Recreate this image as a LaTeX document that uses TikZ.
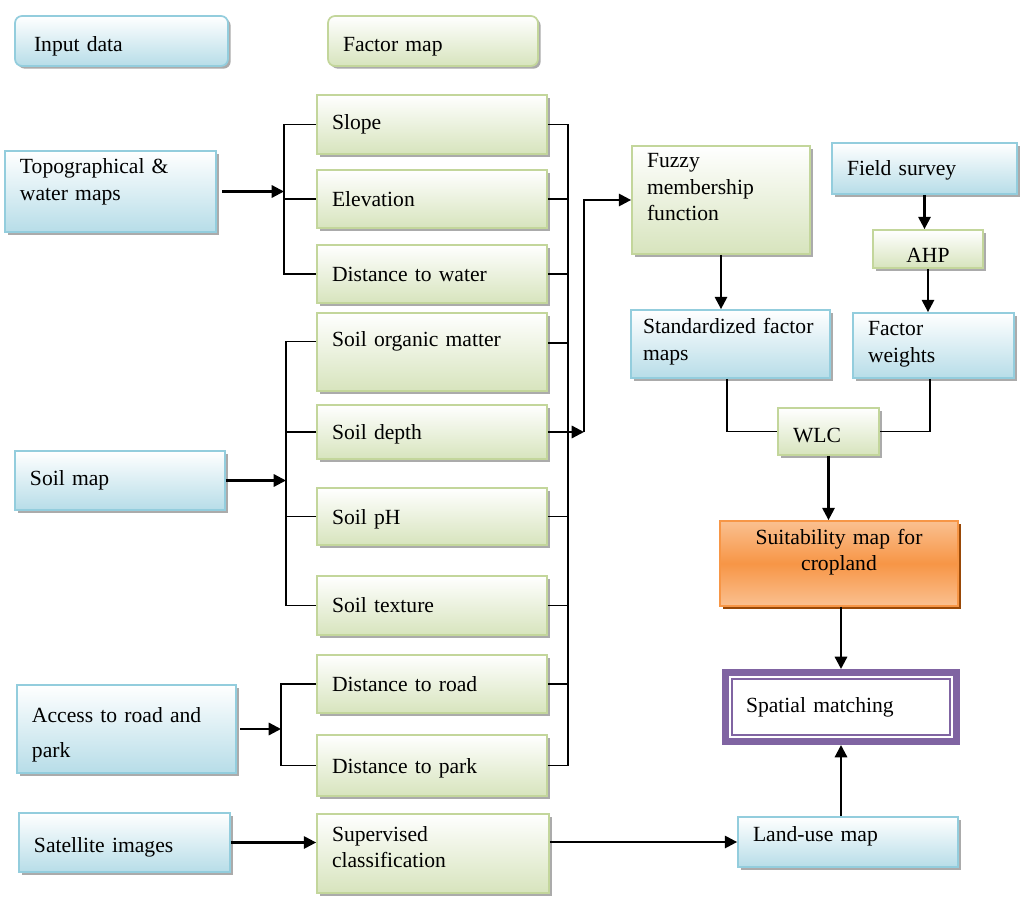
\documentclass[tikz,border=0pt]{standalone}
\usepackage{fontspec}
\setmainfont{Liberation Serif}
\usepackage{xcolor}
\usepackage{tikz}
\usetikzlibrary{arrows.meta}
\usetikzlibrary{shadows}
\definecolor{boxblue}{HTML}{B7DDE8}
\definecolor{lineblue}{HTML}{93CDDD}
\definecolor{boxgreen}{HTML}{D7E4BD}
\definecolor{linegreen}{HTML}{C3D69B}
\definecolor{orangemid}{HTML}{F79646}
\definecolor{orangelight}{HTML}{FAC090}
\definecolor{orangedark}{HTML}{984807}
\definecolor{purp}{HTML}{8064A2}

\begin{document}
\begin{tikzpicture}[x=0.02cm, y=-0.02cm, font=\fontsize{12.3}{15}\selectfont,
	bx/.code 2 args={\pgfmathsetmacro\bxw{#1*0.02}\pgfmathsetmacro\bxt{(#1-30)*0.02}\pgfmathsetmacro\bxh{#2*0.02}\edef\bxtmp{\noexpand\tikzset{minimum width=\bxw cm, text width=\bxt cm, minimum height=\bxh cm}}\bxtmp},
	bl/.code={\pgfmathsetmacro\blh{max(0,-2*(#1))*0.02}\pgfmathsetmacro\bld{max(0,2*(#1))*0.02}\edef\bltmp{\noexpand\tikzset{text height=\blh cm, text depth=\bld cm}}\bltmp},
	card/.style={rectangle, inner sep=0pt, align=left, line width=1pt},
	shd/.style={drop shadow={shadow xshift=1.5pt, shadow yshift=-1.5pt, fill=black!55, opacity=.6}},
	inbox/.style={card, shd, draw=lineblue, top color=white, bottom color=boxblue},
	facbox/.style={card, shd, draw=linegreen, top color=white, bottom color=boxgreen},
	suitbox/.style={card, draw=orangemid, top color=orangelight, bottom color=orangelight, middle color=orangemid, drop shadow={shadow xshift=1.5pt, shadow yshift=-1.5pt, fill=orangedark, opacity=1}},
	smbox/.style={card, draw=purp, line width=4pt, fill=white},
	ln/.style={line width=0.9pt},
	arr/.style={line width=1.3pt, -{Triangle[length=7pt,width=7pt]}}]
	\useasboundingbox (0,0) rectangle (1024,905);
	% legend
	\node[inbox, rounded corners=4pt, bx={213}{50}, bl=-11, text width=3.5cm] (inp) at (121.5,41) {Input data};
	\node[facbox, rounded corners=4pt, bx={210}{50}, bl=-11] (fac) at (433,41) {Factor map};
	% input data
	\node[inbox, bx={211}{81}, bl=17.5] (topo) at (110.5,191.5) {Topographical \&\\water maps};
	\node[inbox, bx={210}{59}] (soil) at (120,480.5) {Soil map};
	\node[inbox, bx={219}{88}, bl=7] (acc) at (126.5,729) {Access to road and\\[5pt]park};
	\node[inbox, bx={211}{59}, bl=-9.5] (sat) at (124.5,842.5) {Satellite images};
	% factor maps
	\node[facbox, bx={230}{59}] (slope) at (432,124.5) {Slope};
	\node[facbox, bx={230}{58}] (elev) at (432,199) {Elevation};
	\node[facbox, bx={230}{58}] (water) at (432,274) {Distance to water};
	\node[facbox, bx={230}{78}, bl=5] (som) at (432,352) {Soil organic matter};
	\node[facbox, bx={230}{54}, bl=-7] (depth) at (432,432) {Soil depth};
	\node[facbox, bx={230}{57}, bl=-7.5] (ph) at (432,516.5) {Soil pH};
	\node[facbox, bx={230}{59}] (texture) at (432,605.5) {Soil texture};
	\node[facbox, bx={230}{58}, bl=-7] (road) at (432,684) {Distance to road};
	\node[facbox, bx={230}{61}, bl=-7.5] (park) at (432,765.5) {Distance to park};
	\node[facbox, bx={232}{79}, bl=12.5] (sup) at (433,853.5) {Supervised\\classification};
	% right part
	\node[facbox, bx={178}{108}, bl=32] (fuzzy) at (721,200) {Fuzzy\\membership\\function};
	\node[inbox, bx={185}{51}, bl=-7.5] (field) at (924.5,168.5) {Field survey};
	\node[facbox, bx={110}{38}, bl=-14, align=center] (ahp) at (928,249) {AHP};
	\node[inbox, bx={199}{68}, bl=10, text width=3.5cm] (std) at (730.5,344) {Standardized factor\\maps};
	\node[inbox, bx={161}{65}, bl=9.5] (fw) at (933.5,345.5) {Factor\\weights};
	\node[facbox, bx={101}{47}, bl=-10.5] (wlc) at (828.5,431.5) {WLC};
	\node[suitbox, bx={238}{85}, bl=19.5, align=center] (suit) at (839,563.5) {Suitability map for\\cropland};
	\node[smbox, bx={231}{69}, bl=-5, text width=3.8cm] (sm) at (841,707) {Spatial matching};
	\draw[purp, line width=0.8pt] ([shift={(10,10)}]sm.north west) rectangle ([shift={(-10,-10)}]sm.south east);
	\node[inbox, bx={220}{50}, bl=1] (lu) at (848,842) {Land-use map};
	\coordinate (tb) at (284,0);
	\coordinate (sb) at (286,0);
	\coordinate (ab) at (281,0);
	\coordinate (bus) at (568,0);
	\coordinate (fz) at (584,0);
	% left brackets
	\draw[ln] (slope.west) -- (slope.west -| tb) -- (water.west -| tb) -- (water.west);
	\draw[ln] (elev.west) -- (elev.west -| tb);
	\draw[arr] ([xshift=3pt]topo.east) -- (topo.east -| tb);
	\draw[ln] ([yshift=6pt]som.west) -- ([yshift=6pt]som.west -| sb) -- (texture.west -| sb) -- (texture.west);
	\foreach \n in {depth, ph}
		\draw[ln] (\n.west) -- (\n.west -| sb);
	\draw[arr] (soil.east) -- (soil.east -| sb);
	\draw[ln] (road.west) -- (road.west -| ab) -- (park.west -| ab) -- (park.west);
	\draw[arr] ([xshift=2pt]acc.east) -- (acc.east -| ab);
	\draw[arr] (sat.east) -- (sat.east -| sup.west);
	% right bus
	\foreach \n in {slope, elev, water, ph, texture, road, park}
		\draw[ln] (\n.east) -- (\n.east -| bus);
	\draw[ln] ([yshift=5pt]som.east) -- ([yshift=5pt]som.east -| bus);
	\draw[ln] (slope.east -| bus) -- (park.east -| bus);
	\draw[arr] (depth.east) -- (depth.east -| fz);
	\draw[arr] (depth.east -| fz) |- (fuzzy.west);
	% weighting
	\draw[arr] (fuzzy.south) -- (fuzzy.south |- std.north);
	\draw[arr] (field.south) -- (field.south |- ahp.north);
	\draw[arr] (ahp.south) -- (ahp.south |- fw.north);
	\draw[ln] ([xshift=-2pt]std.south) |- (wlc.west);
	\draw[ln] ([xshift=-2pt]fw.south) |- (wlc.east);
	\draw[arr] (wlc.south) -- (wlc.south |- suit.north);
	\draw[arr] (suit.south -| sm.north) -- (sm.north);
	\draw[arr] (lu.north -| sm.south) -- (sm.south);
	\draw[arr] (sup.east |- lu.west) -- (lu.west);
\end{tikzpicture}
\end{document}
